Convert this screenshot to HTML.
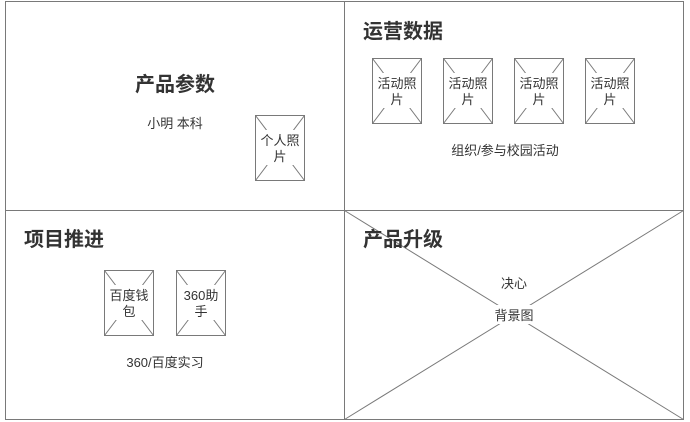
<!DOCTYPE html>
<html><head><meta charset="utf-8"><style>
html,body{margin:0;padding:0;background:#fff}
svg{display:block}
text{font-family:"Liberation Sans","Noto Sans CJK SC",sans-serif;fill:#333;font-size:13px;text-anchor:middle}
.t{font-size:20px;font-weight:700}
.l{stroke:#797979;stroke-width:1;fill:none}
</style></head><body>
<svg width="690" height="422" viewBox="0 0 690 422" xmlns="http://www.w3.org/2000/svg">
<rect width="690" height="422" fill="#fff"/>
<path class="l" d="M344.5 210.5L683.5 419.5M683.5 210.5L344.5 419.5"/>
<rect x="494" y="305" width="40" height="19" fill="#fff"/>
<path class="l" d="M5.5 1.5H683.5V419.5H5.5ZM344.5 1.5V419.5M5.5 210.5H683.5"/>

<path class="l" d="M255.5 115.5h49v65h-49zM255.5 115.5l49 65M304.5 115.5l-49 65"/>
<rect x="256" y="130" width="48" height="35" fill="#fff"/>
<text x="280" y="145">个人照</text><text x="280" y="161">片</text>

<path class="l" d="M372.5 58.5h49v65h-49zM372.5 58.5l49 65M421.5 58.5l-49 65"/>
<rect x="373" y="73" width="48" height="35" fill="#fff"/>
<text x="397" y="88">活动照</text><text x="397" y="104">片</text>

<path class="l" d="M443.5 58.5h49v65h-49zM443.5 58.5l49 65M492.5 58.5l-49 65"/>
<rect x="444" y="73" width="48" height="35" fill="#fff"/>
<text x="468" y="88">活动照</text><text x="468" y="104">片</text>

<path class="l" d="M514.5 58.5h49v65h-49zM514.5 58.5l49 65M563.5 58.5l-49 65"/>
<rect x="515" y="73" width="48" height="35" fill="#fff"/>
<text x="539" y="88">活动照</text><text x="539" y="104">片</text>

<path class="l" d="M585.5 58.5h49v65h-49zM585.5 58.5l49 65M634.5 58.5l-49 65"/>
<rect x="586" y="73" width="48" height="35" fill="#fff"/>
<text x="610" y="88">活动照</text><text x="610" y="104">片</text>

<path class="l" d="M104.5 270.5h49v65h-49zM104.5 270.5l49 65M153.5 270.5l-49 65"/>
<rect x="105" y="285" width="48" height="35" fill="#fff"/>
<text x="129" y="300">百度钱</text><text x="129" y="316">包</text>

<path class="l" d="M176.5 270.5h49v65h-49zM176.5 270.5l49 65M225.5 270.5l-49 65"/>
<rect x="177" y="285" width="48" height="35" fill="#fff"/>
<text x="201" y="300">360助</text><text x="201" y="316">手</text>

<text class="t" x="175" y="91">产品参数</text>
<text class="t" x="403" y="38">运营数据</text>
<text class="t" x="64" y="246">项目推进</text>
<text class="t" x="403" y="246">产品升级</text>

<text x="175" y="128">小明 本科</text>
<text x="505" y="155">组织/参与校园活动</text>
<text x="165" y="367">360/百度实习</text>
<text x="514" y="288">决心</text>
<text x="514" y="320">背景图</text>
</svg>
</body></html>
